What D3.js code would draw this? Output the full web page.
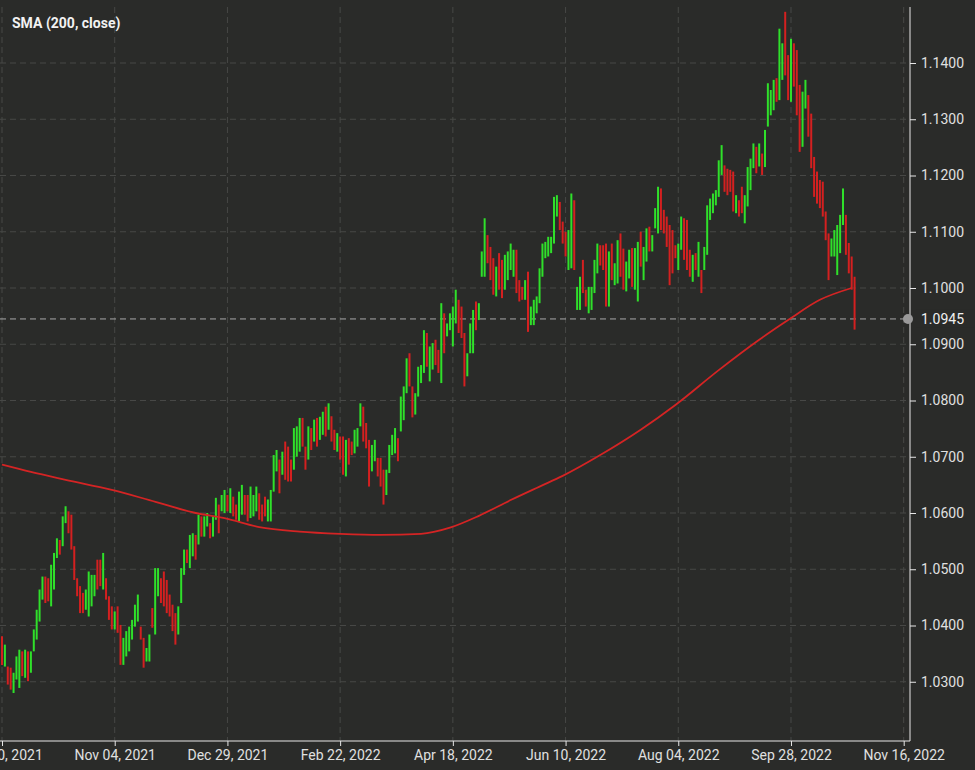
<!DOCTYPE html>
<html><head><meta charset="utf-8">
<script src="https://cdn.jsdelivr.net/npm/d3@7"></script>
<style>
html,body{margin:0;padding:0;background:#2a2b29;}
text{font-family:"Liberation Sans Narrow","Roboto","Liberation Sans",sans-serif;}
</style></head><body>
<svg id="c" width="975" height="770"></svg>
<script>
const highs = [
1.0381,1.0366,1.0327,1.0325,1.0316,1.0345,1.0357,1.0354,1.0357,1.0354,1.0354,1.0393,1.0428,1.0464,1.0487,1.0487,1.0484,1.0508,1.0529,1.0555,1.0552,1.0594,1.0612,1.0603,1.0597,1.0541,1.0484,1.0470,1.0458,1.0464,1.0496,1.0490,1.0490,1.0517,1.0517,1.0529,1.0484,1.0452,1.0434,1.0425,1.0434,1.0401,1.0378,1.0390,1.0398,1.0410,1.0437,1.0455,1.0398,1.0378,1.0360,1.0384,1.0431,1.0502,1.0502,1.0484,1.0496,1.0481,1.0455,1.0437,1.0422,1.0434,1.0502,1.0535,1.0535,1.0561,1.0564,1.0561,1.0597,
1.0594,1.0594,1.0600,1.0582,1.0594,1.0627,1.0615,1.0632,1.0641,1.0632,
1.0644,1.0629,1.0615,1.0638,1.0650,1.0632,1.0632,1.0647,1.0632,1.0647,
1.0635,1.0615,1.0629,1.0624,1.0641,1.0703,1.0712,1.0695,1.0709,1.0727,
1.0718,1.0695,1.0751,1.0754,1.0769,1.0769,1.0718,1.0754,1.0751,1.0766,
1.0769,1.0771,1.0780,1.0789,1.0795,1.0772,1.0748,1.0742,1.0736,1.0736,
1.0730,1.0733,1.0727,1.0748,1.0751,1.0795,1.0789,1.0760,1.0730,1.0721,
1.0730,1.0698,1.0698,1.0677,1.0677,1.0721,1.0739,1.0751,1.0733,
1.0807,1.0825,1.0875,1.0884,1.0825,1.0813,1.0860,1.0863,1.0925,1.0920,
1.0896,1.0902,1.0908,1.0890,1.0973,1.0955,1.0937,1.0955,1.0967,1.0997,
1.0979,1.0967,1.0920,1.0884,1.0937,1.0961,1.0976,1.0973,1.1065,1.1124,
1.1094,1.1073,1.1053,1.1038,1.1062,1.1050,1.1059,1.1065,1.1079,1.1068,
1.1068,1.1014,1.1002,1.1014,1.1029,1.0967,1.0979,1.0985,1.1035,1.1079,
1.1082,1.1091,1.1091,1.1162,1.1165,1.1153,1.1118,1.1100,1.1103,1.1168,
1.1156,1.1002,1.1020,1.1050,1.0997,1.1002,1.1002,1.1050,1.1079,
1.1076,1.1076,1.1079,1.1065,1.1079,1.1044,1.1085,1.1097,1.1070,1.1047,
1.1068,1.1071,1.1071,1.1082,1.1100,1.1073,1.1106,1.1109,1.1094,1.1142,
1.1180,1.1177,1.1139,1.1127,1.1112,1.1103,1.1076,1.1079,1.1127,1.1124,
1.1121,1.1068,1.1059,1.1062,1.1082,1.1032,1.1073,1.1147,1.1159,1.1168,
1.1174,1.1227,1.1254,1.1218,1.1212,1.1210,1.1207,1.1165,1.1156,1.1180,
1.1165,1.1215,1.1230,1.1257,1.1251,1.1257,1.1239,1.1281,
1.1364,1.1352,1.1370,1.1373,1.1461,1.1435,1.1491,1.1414,1.1443,1.1435,
1.1423,1.1361,1.1349,1.1370,1.1343,1.1310,1.1233,1.1207,1.1192,1.1189,
1.1136,1.1097,1.1088,1.1103,1.1112,1.1130,1.1177,1.1130,1.1080,1.1056,
1.1020];
const lows = [
1.0330,1.0327,1.0295,1.0286,1.0280,1.0304,1.0289,1.0310,1.0307,1.0301,1.0316,1.0354,1.0375,1.0407,1.0446,1.0440,1.0443,1.0434,1.0464,1.0520,1.0526,1.0541,1.0582,1.0564,1.0535,1.0481,1.0452,1.0422,1.0422,1.0428,1.0416,1.0434,1.0452,1.0464,1.0470,1.0464,1.0446,1.0410,1.0393,1.0393,1.0387,1.0330,1.0330,1.0345,1.0354,1.0375,1.0398,1.0407,1.0375,1.0325,1.0336,1.0336,1.0396,1.0384,1.0452,1.0440,1.0434,1.0422,1.0416,1.0390,1.0366,1.0384,1.0440,1.0490,1.0511,1.0502,1.0523,1.0517,1.0544,
1.0558,1.0558,1.0576,1.0555,1.0558,1.0588,1.0564,1.0603,1.0600,1.0603,
1.0600,1.0594,1.0588,1.0585,1.0597,1.0597,1.0585,1.0591,1.0594,1.0603,
1.0588,1.0585,1.0594,1.0585,1.0585,1.0638,1.0674,1.0635,1.0668,1.0659,
1.0656,1.0656,1.0677,1.0700,1.0709,1.0718,1.0677,1.0695,1.0712,1.0727,
1.0718,1.0730,1.0739,1.0736,1.0748,1.0727,1.0712,1.0709,1.0695,1.0668,
1.0665,1.0686,1.0703,1.0706,1.0718,1.0754,1.0727,1.0715,1.0647,1.0674,
1.0692,1.0665,1.0647,1.0615,1.0632,1.0671,1.0703,1.0706,1.0692,
1.0745,1.0765,1.0813,1.0825,1.0770,1.0775,1.0807,1.0831,1.0849,1.0860,
1.0834,1.0855,1.0863,1.0849,1.0831,1.0884,1.0914,1.0925,1.0896,1.0937,
1.0920,1.0911,1.0825,1.0843,1.0884,1.0884,1.0925,1.0943,1.1020,1.1020,
1.1044,1.1014,1.0988,1.0985,1.0997,1.0982,1.0997,1.1014,1.1032,1.1020,
1.0991,1.0976,1.0979,1.0979,1.0922,1.0934,1.0934,1.0955,1.0973,1.1020,
1.1053,1.1056,1.1062,1.1079,1.1127,1.1103,1.1079,1.1056,1.1032,1.1035,
1.1032,1.0961,1.0961,1.0991,1.0967,1.0955,1.0961,1.0991,1.1026,
1.1040,1.1032,1.0967,1.0967,1.1014,1.1005,1.1008,1.1020,1.0997,1.0994,
1.1017,1.1002,1.0997,1.0976,1.1038,1.1014,1.1047,1.1065,1.1065,1.1106,
1.1097,1.1103,1.1097,1.1073,1.1005,1.1026,1.1053,1.1032,1.1068,1.1050,
1.1032,1.1020,1.1011,1.1032,1.1020,1.0991,1.1032,1.1059,1.1121,1.1133,
1.1147,1.1162,1.1201,1.1171,1.1165,1.1171,1.1136,1.1133,1.1127,1.1133,
1.1115,1.1145,1.1174,1.1213,1.1204,1.1216,1.1201,1.1215,
1.1287,1.1307,1.1316,1.1331,1.1334,1.1370,1.1378,1.1334,1.1331,1.1358,
1.1307,1.1242,1.1251,1.1319,1.1269,1.1213,1.1162,1.1150,1.1142,1.1127,
1.1085,1.1014,1.1056,1.1056,1.1023,1.1062,1.1112,1.1059,1.1026,1.0997,
1.0926];
// g = up bar, r = down bar
const directions = (
"rgrrgggrgr"+"gggggrrggg"+"rggrrrrrrg"+"gggrrgrrrg"+"rrggggggrr"+"ggrggrrrrr"+"rgggrggrg"+
"rggrggrggr"+"grrggrrggg"+"rrrggggrgr"+"rrgggrrgrg"+"rggrgrrgrr"+"grrgggrrrg"+"grrrggggr"+
"gggrrggggr"+"ggrrgrgggg"+"rrrgggrggg"+"rrrgrrgggg"+"rrrgrggggg"+"gggggrrrgg"+"rggrrgggg"+
"rrrgrggrrg"+"grggrggrgg"+"grrrrrrggr"+"rrgrgrgggg"+"gggrrrrgrr"+"ggggrgrg"+
"gggrggrrgr"+"rrggrrrrrr"+"rrgggggrrr"+"r").split("");
const smaIndex = [0,10,22,38,51,67,77,89,103,117,131,145,155,165,176,186,194,207,221,233,248,262,272,283,294];
const smaValues = [1.0686,1.0673,1.0659,1.0641,1.0623,1.0600,1.0591,1.0575,1.0567,1.0563,1.0561,1.0563,1.0574,1.0595,1.0623,1.0647,1.0666,1.0703,1.0748,1.0792,1.0854,1.0908,1.0943,1.0979,1.1000];
const tickIndex = [0,39,78,117,156,195,234,273,312];
const tickLabels = ["Sep 10, 2021","Nov 04, 2021","Dec 29, 2021","Feb 22, 2022","Apr 18, 2022","Jun 10, 2022","Aug 04, 2022","Sep 28, 2022","Nov 16, 2022"];
const priceTicks = [1.03,1.04,1.05,1.06,1.07,1.08,1.09,1.10,1.11,1.12,1.13,1.14];
const lastPrice = 1.0945;
const title = "SMA (200, close)";

const svg = d3.select("#c");
const plotR = 910, plotB = 741, plotT = 7;
const x = d3.scaleLinear().domain([0,312]).range([2,903.7]);
const y = d3.scaleLinear().domain([1.10,1.14]).range([288,63]);

const grid = svg.append("g");
grid.selectAll("line.h").data(priceTicks).join("line")
  .attr("x1",0).attr("x2",plotR).attr("y1",d=>y(d)).attr("y2",d=>y(d))
  .attr("stroke","#474846").attr("stroke-dasharray","6,4");
grid.selectAll("line.v").data(tickIndex).join("line")
  .attr("x1",d=>x(d)).attr("x2",d=>x(d)).attr("y1",plotT).attr("y2",plotB)
  .attr("stroke","#474846").attr("stroke-dasharray","6,4");

// last price line
svg.append("line").attr("x1",0).attr("x2",plotR).attr("y1",y(lastPrice)).attr("y2",y(lastPrice))
  .attr("stroke","#a8a8a8").attr("stroke-dasharray","6,4").attr("stroke-width",1);

// bars
svg.append("g").selectAll("line").data(highs.map((h,i)=>({i,h,l:lows[i],d:directions[i]}))).join("line")
  .attr("x1",d=>x(d.i)).attr("x2",d=>x(d.i))
  .attr("y1",d=>y(d.h)).attr("y2",d=>y(d.l))
  .attr("stroke",d=>d.d==="g"?"#2fe02a":"#d42020").attr("stroke-width",2);

// SMA
svg.append("path").datum(smaIndex.map((v,k)=>[v,smaValues[k]]))
  .attr("fill","none").attr("stroke","#d42424").attr("stroke-width",1.8)
  .attr("d",d3.line().x(d=>x(d[0])).y(d=>y(d[1])).curve(d3.curveMonotoneX));

// axes
const ay = svg.append("g").attr("transform",`translate(${plotR},0)`)
  .call(d3.axisRight(y).tickValues(priceTicks).tickFormat(d3.format(".4f")).tickSize(6).tickPadding(5));
ay.select(".domain").remove();
ay.selectAll("line").attr("stroke","#e8e8e8");
ay.selectAll("text").attr("fill","#e0e0e0").style("font-size","14px");
svg.append("line").attr("x1",plotR).attr("x2",plotR).attr("y1",plotT).attr("y2",plotB).attr("stroke","#e8e8e8");

const ax = svg.append("g").attr("transform",`translate(0,${plotB})`)
  .call(d3.axisBottom(x).tickValues(tickIndex).tickFormat((d,i)=>tickLabels[i]).tickSize(5).tickPadding(4));
ax.select(".domain").remove();
ax.selectAll("line").attr("stroke","#e8e8e8");
ax.selectAll("text").attr("fill","#e0e0e0").style("font-size","14px");
svg.append("line").attr("x1",0).attr("x2",plotR).attr("y1",plotB).attr("y2",plotB).attr("stroke","#e8e8e8");

// last price marker
svg.append("rect").attr("x",plotR+6).attr("y",y(lastPrice)-9).attr("width",58).attr("height",18).attr("fill","#2a2b29");
svg.append("circle").attr("cx",plotR-2).attr("cy",y(lastPrice)).attr("r",5).attr("fill","#9a9a9a");
svg.append("text").attr("x",plotR+11).attr("y",y(lastPrice)+5).text(d3.format(".4f")(lastPrice))
  .attr("fill","#f0f0f0").style("font-size","14px");

svg.append("text").attr("x",12).attr("y",28).text(title).attr("fill","#f2f2f2")
  .style("font-size","14px").style("font-weight","bold");
</script></body></html>
